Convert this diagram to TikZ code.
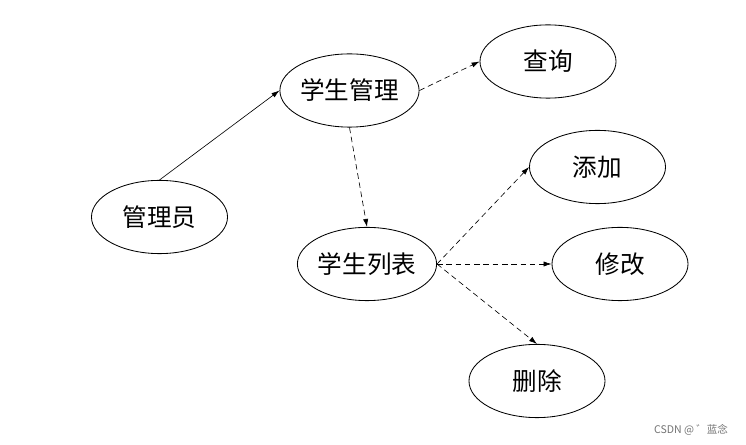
\documentclass[tikz,border=0pt]{standalone}
\usepackage{fontspec}
\setmainfont{Noto Sans CJK SC}
\usetikzlibrary{
    arrows.meta,
    shapes.geometric
}

\begin{document}
\begin{tikzpicture}[
    x=0.025cm, y=-0.025cm,
    font=\fontsize{17.5}{21}\selectfont,
    usecase/.style={
        ellipse,
        draw=black,
        line width=0.6pt,
        minimum width=3.4cm,
        minimum height=1.83cm,
        inner sep=0pt,
        fill=white
    },
    arrow/.style={
        -{Latex[length=2mm,width=1.3mm]},
        line width=0.45pt,
        draw=black
    },
    dasharrow/.style={
        arrow,
        dash pattern=on 4pt off 2.6pt
    },
    watermark/.style={
        font=\fontsize{7.5}{9}\selectfont,
        text=black!55,
        anchor=east
    }
]
\useasboundingbox (0,0) rectangle (746,445);

% =========================================================
% Use cases
% =========================================================
\node[usecase] (admin) at (159.5,217) {管理员};
\node[usecase] (stumgr) at (349.5,90.5) {学生管理};
\node[usecase] (query) at (548,61.5) {查询};
\node[usecase] (stulist) at (367,264) {学生列表};
\node[usecase] (addop) at (597.5,167) {添加};
\node[usecase] (editop) at (620,264) {修改};
\node[usecase] (delop) at (537,381) {删除};

% =========================================================
% Relations
% =========================================================
\draw[arrow] (admin.north) -- (stumgr.west);
\draw[dasharrow] (stumgr.east) -- (query.west);
\draw[dasharrow] (stumgr.south) -- (stulist.north);
\draw[dasharrow] (stulist.east) -- (addop.west);
\draw[dasharrow] (stulist.east) -- (editop.west);
\draw[dasharrow] (stulist.east) -- (delop.north);

% =========================================================
% Watermark
% =========================================================
\node[watermark] (wm) at (733,430) {CSDN @ ゛蓝念};

\end{tikzpicture}
\end{document}
